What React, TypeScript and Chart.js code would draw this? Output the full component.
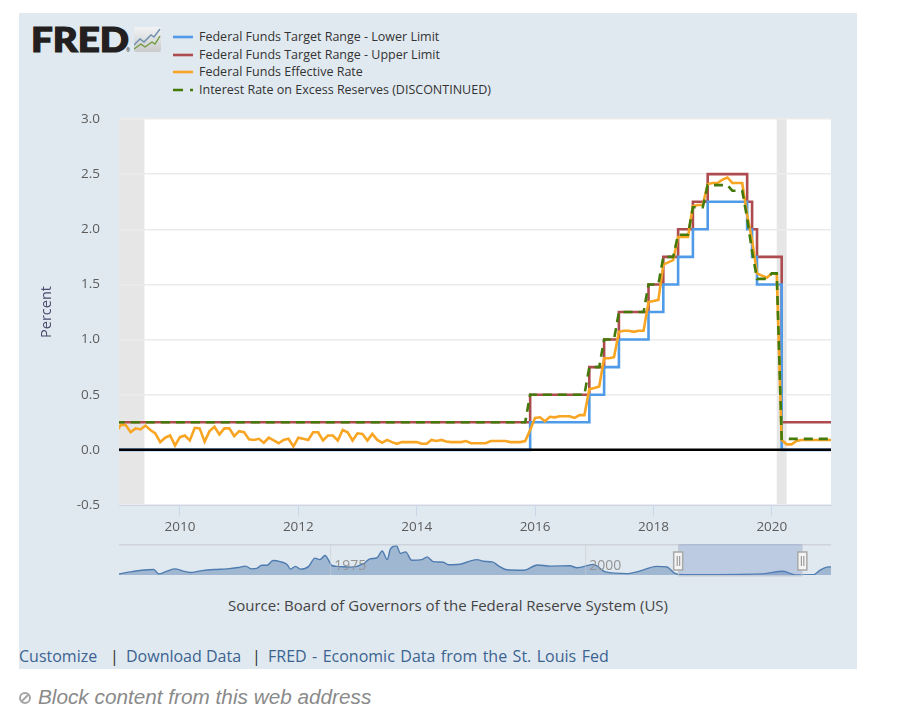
import React, { useEffect, useRef } from 'react';
import { Chart, registerables } from 'chart.js';

Chart.register(...registerables);

// monthly values, Dec 2008 to Jan 2021, one row per year
const lowerLimit = [
  0,
  0, 0, 0, 0, 0, 0, 0, 0, 0, 0, 0, 0,
  0, 0, 0, 0, 0, 0, 0, 0, 0, 0, 0, 0,
  0, 0, 0, 0, 0, 0, 0, 0, 0, 0, 0, 0,
  0, 0, 0, 0, 0, 0, 0, 0, 0, 0, 0, 0,
  0, 0, 0, 0, 0, 0, 0, 0, 0, 0, 0, 0,
  0, 0, 0, 0, 0, 0, 0, 0, 0, 0, 0, 0,
  0, 0, 0, 0, 0, 0, 0, 0, 0, 0, 0, 0.25,
  0.25, 0.25, 0.25, 0.25, 0.25, 0.25, 0.25, 0.25, 0.25, 0.25, 0.25, 0.5,
  0.5, 0.5, 0.75, 0.75, 0.75, 1, 1, 1, 1, 1, 1, 1.25,
  1.25, 1.25, 1.5, 1.5, 1.5, 1.75, 1.75, 1.75, 2, 2, 2, 2.25,
  2.25, 2.25, 2.25, 2.25, 2.25, 2.25, 2.25, 2, 1.75, 1.5, 1.5, 1.5,
  1.5, 1.5, 0, 0, 0, 0, 0, 0, 0, 0, 0, 0,
  0,
];
const upperLimit = [
  0.25,
  0.25, 0.25, 0.25, 0.25, 0.25, 0.25, 0.25, 0.25, 0.25, 0.25, 0.25, 0.25,
  0.25, 0.25, 0.25, 0.25, 0.25, 0.25, 0.25, 0.25, 0.25, 0.25, 0.25, 0.25,
  0.25, 0.25, 0.25, 0.25, 0.25, 0.25, 0.25, 0.25, 0.25, 0.25, 0.25, 0.25,
  0.25, 0.25, 0.25, 0.25, 0.25, 0.25, 0.25, 0.25, 0.25, 0.25, 0.25, 0.25,
  0.25, 0.25, 0.25, 0.25, 0.25, 0.25, 0.25, 0.25, 0.25, 0.25, 0.25, 0.25,
  0.25, 0.25, 0.25, 0.25, 0.25, 0.25, 0.25, 0.25, 0.25, 0.25, 0.25, 0.25,
  0.25, 0.25, 0.25, 0.25, 0.25, 0.25, 0.25, 0.25, 0.25, 0.25, 0.25, 0.5,
  0.5, 0.5, 0.5, 0.5, 0.5, 0.5, 0.5, 0.5, 0.5, 0.5, 0.5, 0.75,
  0.75, 0.75, 1, 1, 1, 1.25, 1.25, 1.25, 1.25, 1.25, 1.25, 1.5,
  1.5, 1.5, 1.75, 1.75, 1.75, 2, 2, 2, 2.25, 2.25, 2.25, 2.5,
  2.5, 2.5, 2.5, 2.5, 2.5, 2.5, 2.5, 2.25, 2, 1.75, 1.75, 1.75,
  1.75, 1.75, 0.25, 0.25, 0.25, 0.25, 0.25, 0.25, 0.25, 0.25, 0.25, 0.25,
  0.25,
];
const effectiveRate = [
  0.16,
  0.225, 0.225, 0.16, 0.195, 0.185, 0.22, 0.18, 0.15, 0.07, 0.11, 0.13, 0.04,
  0.115, 0.13, 0.085, 0.2, 0.195, 0.075, 0.17, 0.21, 0.14, 0.195, 0.195, 0.125,
  0.17, 0.16, 0.095, 0.09, 0.1, 0.065, 0.11, 0.085, 0.06, 0.09, 0.1, 0.03,
  0.11, 0.1, 0.09, 0.16, 0.16, 0.085, 0.13, 0.13, 0.085, 0.18, 0.16, 0.085,
  0.15, 0.145, 0.085, 0.145, 0.09, 0.065, 0.09, 0.07, 0.055, 0.07, 0.07, 0.07,
  0.07, 0.055, 0.055, 0.09, 0.08, 0.09, 0.075, 0.07, 0.07, 0.07, 0.08, 0.06,
  0.06, 0.06, 0.06, 0.08, 0.08, 0.08, 0.08, 0.07, 0.07, 0.07, 0.08, 0.18,
  0.29, 0.295, 0.26, 0.3, 0.295, 0.305, 0.305, 0.305, 0.29, 0.315, 0.315, 0.55,
  0.56, 0.575, 0.83, 0.83, 0.84, 1.07, 1.08, 1.08, 1.07, 1.08, 1.08, 1.34,
  1.35, 1.36, 1.68, 1.7, 1.72, 1.93, 1.93, 1.93, 2.21, 2.22, 2.22, 2.41,
  2.42, 2.42, 2.45, 2.47, 2.42, 2.42, 2.42, 2.13, 1.9, 1.6, 1.58, 1.56,
  1.6, 1.6, 0.09, 0.05, 0.05, 0.08, 0.09, 0.09, 0.09, 0.09, 0.09, 0.09,
  0.09,
];
const excessReserves = [
  0.25,
  0.25, 0.25, 0.25, 0.25, 0.25, 0.25, 0.25, 0.25, 0.25, 0.25, 0.25, 0.25,
  0.25, 0.25, 0.25, 0.25, 0.25, 0.25, 0.25, 0.25, 0.25, 0.25, 0.25, 0.25,
  0.25, 0.25, 0.25, 0.25, 0.25, 0.25, 0.25, 0.25, 0.25, 0.25, 0.25, 0.25,
  0.25, 0.25, 0.25, 0.25, 0.25, 0.25, 0.25, 0.25, 0.25, 0.25, 0.25, 0.25,
  0.25, 0.25, 0.25, 0.25, 0.25, 0.25, 0.25, 0.25, 0.25, 0.25, 0.25, 0.25,
  0.25, 0.25, 0.25, 0.25, 0.25, 0.25, 0.25, 0.25, 0.25, 0.25, 0.25, 0.25,
  0.25, 0.25, 0.25, 0.25, 0.25, 0.25, 0.25, 0.25, 0.25, 0.25, 0.25, 0.5,
  0.5, 0.5, 0.5, 0.5, 0.5, 0.5, 0.5, 0.5, 0.5, 0.5, 0.5, 0.75,
  0.75, 0.75, 1, 1, 1, 1.25, 1.25, 1.25, 1.25, 1.25, 1.25, 1.5,
  1.5, 1.5, 1.75, 1.75, 1.75, 1.95, 1.95, 1.95, 2.2, 2.2, 2.2, 2.4,
  2.4, 2.4, 2.4, 2.4, 2.35, 2.35, 2.35, 2.1, 1.8, 1.55, 1.55, 1.55,
  1.6, 1.6, 0.1, 0.1, 0.1, 0.1, 0.1, 0.1, 0.1, 0.1, 0.1, 0.1,
  0.1,
];

const legendNames = [
  'Federal Funds Target Range - Lower Limit',
  'Federal Funds Target Range - Upper Limit',
  'Federal Funds Effective Rate',
  'Interest Rate on Excess Reserves (DISCONTINUED)',
];
const seriesColors = ['#4f9be8', '#ad4b4f', '#f8a523', '#437a0a'];

const yearTicks = [2010, 2012, 2014, 2016, 2018, 2020];
const recessions = [[2008.97, 2009.4], [2020.083, 2020.25]];

// navigator: long history of the effective rate
const navYears = [
  1954.3, 1955.6, 1956.5, 1957.7, 1958.2, 1959, 1959.8, 1960.5, 1961.3, 1962.3, 1963.6, 1964.9,
  1966, 1966.7, 1967.3, 1967.8, 1968.3, 1968.8, 1969.4, 1970.1, 1970.8, 1971.1, 1971.6, 1972.1,
  1972.9, 1973.5, 1974, 1974.5, 1975.2, 1975.7, 1977, 1978.3, 1978.9, 1979.6, 1980.1, 1980.6,
  1980.9, 1981.5, 1981.9, 1982.4, 1983, 1984, 1984.5, 1985.1, 1986.1, 1986.6, 1987.7, 1988.7,
  1989.4, 1990, 1990.9, 1991.5, 1992.3, 1994, 1995.3, 1996.6, 1998.5, 1999.2, 2000.8, 2002,
  2004.1, 2005.4, 2007, 2008, 2008.8, 2009.6, 2017.2, 2019.4, 2020.6, 2022.4, 2023, 2023.7, 2024.1,
];
const navRates = [
  0.7, 2.2, 3.1, 3.6, 0.7, 2.5, 4, 2.7, 1.6, 2.7, 3.6, 4,
  4.9, 5.8, 4, 4.3, 6.3, 6.3, 9.4, 8.7, 6.7, 3.8, 5.6, 3.8,
  5.6, 11, 10, 12.7, 6, 5.6, 5.1, 7.4, 10.5, 11.2, 15.6, 10,
  16.8, 19, 14, 15, 9.6, 10, 11.8, 8.7, 8.3, 6.7, 7, 9,
  10, 8.9, 8.5, 6, 3.4, 3.1, 6.5, 5.8, 6, 4.7, 6.9, 2,
  0.9, 2.7, 5.6, 5.3, 1, 0.2, 0.7, 2.4, 0.1, 0.2, 3, 5.1, 5.3,
];
const navLabels = [1975, 2000];
const navSelection = [2009.12, 2021.29];

const monthX = effectiveRate.map((_, i) => 2008 + 11 / 12 + i / 12);
const toPoints = (values: number[]) => values.map((y, i) => ({ x: monthX[i], y }));

const FONT = '"Open Sans", sans-serif';

// white plot area and recession bands, below the grid
const plotBackground = {
  id: 'plotBackground',
  beforeDraw(chart: any) {
    const { ctx, chartArea: a, scales } = chart;
    ctx.save();
    ctx.fillStyle = '#ffffff';
    ctx.fillRect(a.left, a.top, a.width, a.height);
    ctx.fillStyle = '#e6e6e6';
    recessions.forEach(([from, to]) => {
      const x0 = Math.max(scales.x.getPixelForValue(from), a.left);
      const x1 = scales.x.getPixelForValue(to);
      ctx.fillRect(x0, a.top, x1 - x0, a.height);
    });
    ctx.restore();
  },
};

// the black zero line sits on top of the series
const zeroLine = {
  id: 'zeroLine',
  afterDatasetsDraw(chart: any) {
    const { ctx, chartArea: a, scales } = chart;
    const y = scales.y.getPixelForValue(0);
    ctx.save();
    ctx.strokeStyle = '#000000';
    ctx.lineWidth = 2.5;
    ctx.beginPath();
    ctx.moveTo(a.left, y);
    ctx.lineTo(a.right, y);
    ctx.stroke();
    ctx.restore();
  },
};

const navOverlay = {
  id: 'navOverlay',
  afterDatasetsDraw(chart: any) {
    const { ctx, chartArea: a, scales } = chart;
    const x0 = scales.x.getPixelForValue(navSelection[0]);
    const x1 = scales.x.getPixelForValue(navSelection[1]);
    ctx.save();
    // top rule
    ctx.fillStyle = '#ced3d9';
    ctx.fillRect(a.left, a.top - 1, a.width, 1.5);
    // year labels
    navLabels.forEach((year) => {
      const x = scales.x.getPixelForValue(year);
      ctx.fillStyle = 'rgba(200,205,210,0.6)';
      ctx.fillRect(x, a.top, 1, a.height);
      ctx.fillStyle = '#949494';
      ctx.font = `14px ${FONT}`;
      ctx.textBaseline = 'middle';
      ctx.fillText(String(year), x + 4, a.top + 21);
    });
    // selected range
    ctx.fillStyle = 'rgba(102,133,194,0.3)';
    ctx.fillRect(x0, a.top - 1, x1 - x0, a.height + 2);
    ctx.strokeStyle = '#c4c8cc';
    ctx.lineWidth = 1;
    ctx.beginPath();
    ctx.moveTo(x0 + 0.5, a.top - 1);
    ctx.lineTo(x0 + 0.5, a.bottom + 1);
    ctx.lineTo(x1 - 0.5, a.bottom + 1);
    ctx.lineTo(x1 - 0.5, a.top - 1);
    ctx.stroke();
    // handles
    [x0, x1].forEach((x) => {
      ctx.fillStyle = '#f4f4f4';
      ctx.strokeStyle = '#a8a8a8';
      ctx.lineWidth = 1.5;
      ctx.fillRect(x - 4.5, a.top + 7, 9, 18);
      ctx.strokeRect(x - 4.5, a.top + 7, 9, 18);
      ctx.strokeStyle = '#8c8c8c';
      ctx.lineWidth = 1;
      ctx.beginPath();
      ctx.moveTo(x - 1, a.top + 11);
      ctx.lineTo(x - 1, a.top + 21);
      ctx.moveTo(x + 1.5, a.top + 11);
      ctx.lineTo(x + 1.5, a.top + 21);
      ctx.stroke();
    });
    ctx.restore();
  },
};

const lineStyle = { pointRadius: 0, borderWidth: 2.6, tension: 0, fill: false };

const RateChart = () => {
  const ref = useRef<HTMLCanvasElement>(null);
  useEffect(() => {
    if (!ref.current) return;
    const chart = new Chart(ref.current, {
      type: 'line',
      data: {
        datasets: [
          { ...lineStyle, label: legendNames[3], data: toPoints(excessReserves), borderColor: seriesColors[3], borderDash: [9, 6], order: 0 },
          { ...lineStyle, label: legendNames[2], data: toPoints(effectiveRate), borderColor: seriesColors[2], order: 1 },
          { ...lineStyle, label: legendNames[0], data: toPoints(lowerLimit), borderColor: seriesColors[0], stepped: 'before', order: 2 },
          { ...lineStyle, label: legendNames[1], data: toPoints(upperLimit), borderColor: seriesColors[1], stepped: 'before', order: 3 },
        ],
      },
      options: {
        animation: false,
        responsive: false,
        layout: { padding: { top: 19, right: 26, left: 0, bottom: 0 } },
        plugins: { legend: { display: false }, tooltip: { enabled: false } },
        scales: {
          x: {
            type: 'linear',
            min: 2008.97,
            max: 2021,
            afterBuildTicks: (scale: any) => {
              scale.ticks = yearTicks.map((value) => ({ value }));
            },
            afterFit: (scale: any) => {
              scale.height = 35;
            },
            border: { display: true, color: '#ccd6eb', width: 1 },
            grid: { drawOnChartArea: false, drawTicks: true, tickLength: 11, tickColor: '#ccd6eb' },
            ticks: {
              padding: 3,
              maxRotation: 0,
              autoSkip: false,
              color: '#5c5c5c',
              font: { family: FONT, size: 13.5 },
              callback: (v: any) => String(v),
            },
          },
          y: {
            min: -0.5,
            max: 3,
            // tick padding would otherwise push the plot top down
            afterFit: (scale: any) => {
              scale.width = 100;
              scale.paddingTop = 0;
              scale.paddingBottom = 0;
            },
            border: { display: false },
            grid: { color: '#ebebeb', lineWidth: 1.5, drawTicks: false },
            title: {
              display: true,
              text: 'Percent',
              color: '#4a4a6e',
              font: { family: FONT, size: 14.5 },
              padding: { top: 19, bottom: 0 },
            },
            ticks: {
              stepSize: 0.5,
              padding: 19,
              color: '#5c5c5c',
              font: { family: FONT, size: 13.5 },
              callback: (v: any) => Number(v).toFixed(1),
            },
          },
        },
      },
      plugins: [plotBackground, zeroLine],
    } as any);
    return () => chart.destroy();
  }, []);
  return <canvas ref={ref} width={838} height={440} style={{ position: 'absolute', left: 19, top: 100 }} />;
};

const NavigatorChart = () => {
  const ref = useRef<HTMLCanvasElement>(null);
  useEffect(() => {
    if (!ref.current) return;
    const chart = new Chart(ref.current, {
      type: 'line',
      data: {
        datasets: [
          {
            data: navRates.map((y, i) => ({ x: navYears[i], y })),
            borderColor: '#4f7cb0',
            borderWidth: 1.4,
            backgroundColor: 'rgba(69,114,167,0.42)',
            fill: 'origin',
            pointRadius: 0,
            cubicInterpolationMode: 'monotone',
          },
        ],
      },
      options: {
        animation: false,
        responsive: false,
        layout: { padding: { top: 5, bottom: 5, left: 0, right: 0 } },
        plugins: { legend: { display: false }, tooltip: { enabled: false } },
        scales: {
          x: { type: 'linear', display: false, min: 1954.3, max: 2024.1 },
          y: { display: false, min: 0, max: 19.5 },
        },
      },
      plugins: [navOverlay],
    } as any);
    return () => chart.destroy();
  }, []);
  return <canvas ref={ref} width={712} height={40} style={{ position: 'absolute', left: 119, top: 540 }} />;
};

const text = (left: number, top: number, style: React.CSSProperties = {}): React.CSSProperties => ({
  position: 'absolute',
  left,
  top,
  whiteSpace: 'nowrap',
  fontFamily: FONT,
  ...style,
});

const Logo = () => (
  <>
    <div
      style={text(31, 18, {
        fontFamily: 'Lato',
        fontWeight: 900,
        fontSize: 34,
        lineHeight: '42px',
        color: '#231f20',
        WebkitTextStroke: '1.2px #231f20',
        transform: 'scaleX(1.13)',
        transformOrigin: 'left center',
      })}
    >
      FRED
    </div>
    <div style={text(126, 47, { fontSize: 5, color: '#231f20' })}>®</div>
    <svg width={27} height={25} style={{ position: 'absolute', left: 134, top: 27 }}>
      <defs>
        <linearGradient id="logoBox" x1="0" y1="0" x2="0" y2="1">
          <stop offset="0" stopColor="#f2f3f4" />
          <stop offset="1" stopColor="#c8cacc" />
        </linearGradient>
      </defs>
      <rect x={0} y={0} width={27} height={25} rx={2} fill="url(#logoBox)" />
      <polyline points="0,18 6,12 10,15 17,8 20,10 26,2" fill="none" stroke="#6f8fae" strokeWidth={1.4} />
      <polyline points="0,22 7,17 11,20 18,15 21,17 26,9" fill="none" stroke="#6f9a3c" strokeWidth={1.4} />
    </svg>
  </>
);

const Legend = () => (
  <>
    {legendNames.map((name, i) => {
      const y = 37 + i * 17.5;
      return (
        <React.Fragment key={name}>
          <svg width={20} height={4} style={{ position: 'absolute', left: 173, top: y - 2 }}>
            <line x1={0} y1={2} x2={20} y2={2} stroke={seriesColors[i]} strokeWidth={2.6} strokeDasharray={i === 3 ? '10 7 3 100' : undefined} />
          </svg>
          <div style={text(199, y - 9, { fontSize: 12.5, lineHeight: '18px', color: '#333333' })}>{name}</div>
        </React.Fragment>
      );
    })}
  </>
);

const linkStyle = { fontSize: 16, lineHeight: '20px', color: '#3b6390' };

const App = () => (
  <div style={{ position: 'absolute', left: 0, top: 0, width: 917, height: 719, background: '#ffffff', overflow: 'hidden' }}>
    <div style={{ position: 'absolute', left: 19, top: 13, width: 838, height: 656, background: '#e1e9f0' }} />
    <Logo />
    <Legend />
    <RateChart />
    <NavigatorChart />
    <div style={text(228, 595, { fontSize: 15, lineHeight: '20px', color: '#444444' })}>
      Source: Board of Governors of the Federal Reserve System (US)
    </div>
    <div style={text(19, 646, linkStyle)}>Customize</div>
    <div style={text(110, 646, { ...linkStyle, color: '#333333' })}>|</div>
    <div style={text(126, 646, linkStyle)}>Download Data</div>
    <div style={text(252, 646, { ...linkStyle, color: '#333333' })}>|</div>
    <div style={text(268, 646, { ...linkStyle, wordSpacing: 1.3 })}>FRED - Economic Data from the St. Louis Fed</div>
    <svg width={14} height={14} style={{ position: 'absolute', left: 18, top: 691 }}>
      <circle cx={7} cy={7} r={5} fill="none" stroke="#a5a5a5" strokeWidth={2} />
      <line x1={3.5} y1={10.5} x2={10.5} y2={3.5} stroke="#a5a5a5" strokeWidth={2} />
    </svg>
    <div style={text(38, 685, { fontFamily: '"Liberation Sans"', fontStyle: 'italic', fontSize: 20.75, lineHeight: '24px', color: '#8a8a8a' })}>
      Block content from this web address
    </div>
  </div>
);

export default App;
